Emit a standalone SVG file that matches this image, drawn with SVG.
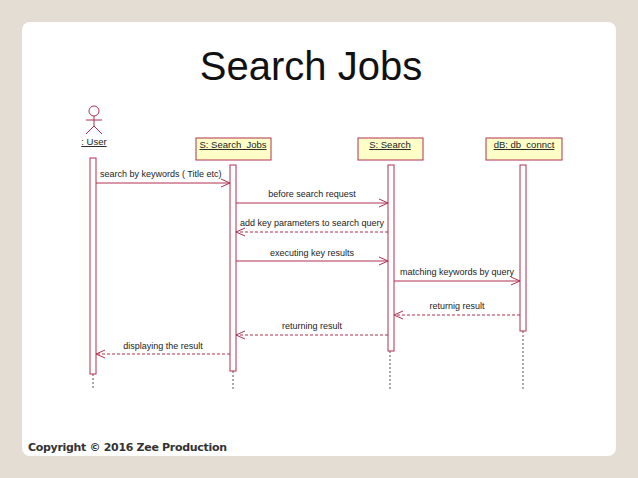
<svg xmlns="http://www.w3.org/2000/svg" width="638" height="478" viewBox="0 0 638 478">
<style>
.b{fill:#ffffc8;stroke:#b03050;stroke-width:1}
.a{fill:#fff;stroke:#b03050;stroke-width:1}
.t{font-family:"Liberation Sans",Arial,sans-serif;font-size:9px;fill:#222}
.n{font-family:"Liberation Sans",Arial,sans-serif;font-size:9.5px;fill:#222;text-decoration:underline;text-anchor:middle}
.l{stroke:#b03050;stroke-width:1;fill:none}
.d{stroke:#b03050;stroke-width:1;fill:none;stroke-dasharray:3,2}
.ll{stroke:#555;stroke-width:1;stroke-dasharray:2,2}
</style>
<defs>
<marker id="ar" markerWidth="10" markerHeight="10" refX="9" refY="5" orient="auto" markerUnits="userSpaceOnUse"><path d="M0,1 L9,5 L0,9" fill="none" stroke="#b03050"/></marker>
</defs>
<rect width="638" height="478" fill="#e3ddd3"/>
<rect x="22" y="22" width="594" height="434" rx="8" fill="#fff"/>
<text x="311" y="80" font-family="Liberation Sans,Arial,sans-serif" font-size="40" text-anchor="middle" fill="#111">Search Jobs</text>
<g id="user">
<circle cx="94" cy="111" r="5" class="a"/>
<path class="l" d="M94,116 V126 M86,120 H102 M94,126 L86,134 M94,126 L102,134"/>
<text x="94" y="145" class="n">: User</text>
<line x1="93" y1="374" x2="93" y2="390" class="ll"/>
<rect x="90" y="158" width="6" height="216" class="a"/>
</g>
<g id="searchjobs">
<rect x="196" y="138" width="75" height="22" class="b"/>
<text x="233" y="148" class="n">S: Search_Jobs</text>
<line x1="233" y1="371" x2="233" y2="390" class="ll"/>
<rect x="230" y="165" width="6" height="206" class="a"/>
</g>
<g id="search">
<rect x="358" y="138" width="65" height="22" class="b"/>
<text x="390" y="148" class="n">S: Search</text>
<line x1="390" y1="351" x2="390" y2="390" class="ll"/>
<rect x="388" y="165" width="6" height="186" class="a"/>
</g>
<g id="db">
<rect x="486" y="138" width="76" height="22" class="b"/>
<text x="524" y="148" class="n">dB: db_connct</text>
<line x1="523" y1="331" x2="523" y2="390" class="ll"/>
<rect x="520" y="165" width="6" height="166" class="a"/>
</g>
<g id="connectors">
<line x1="96" y1="183" x2="230" y2="183" class="l" marker-end="url(#ar)"/>
<text x="100" y="177" class="t">search by keywords ( Title etc)</text>
<line x1="236" y1="203" x2="388" y2="203" class="l" marker-end="url(#ar)"/>
<text x="312" y="197" class="t" text-anchor="middle">before search request</text>
<line x1="388" y1="232" x2="236" y2="232" class="d" marker-end="url(#ar)"/>
<text x="312" y="226" class="t" text-anchor="middle">add key parameters to search query</text>
<line x1="236" y1="261" x2="388" y2="261" class="l" marker-end="url(#ar)"/>
<text x="312" y="256" class="t" text-anchor="middle">executing key results</text>
<line x1="394" y1="281" x2="520" y2="281" class="l" marker-end="url(#ar)"/>
<text x="457" y="275" class="t" text-anchor="middle">matching keywords by query</text>
<line x1="520" y1="315" x2="394" y2="315" class="d" marker-end="url(#ar)"/>
<text x="457" y="309" class="t" text-anchor="middle">returnig result</text>
<line x1="388" y1="335" x2="236" y2="335" class="d" marker-end="url(#ar)"/>
<text x="312" y="329" class="t" text-anchor="middle">returning result</text>
<line x1="230" y1="354" x2="96" y2="354" class="d" marker-end="url(#ar)"/>
<text x="163" y="349" class="t" text-anchor="middle">displaying the result</text>
</g>
<text x="28" y="451" font-family="DejaVu Sans,Verdana,sans-serif" font-size="11" font-weight="bold" fill="#333" textLength="199">Copyright © 2016 Zee Production</text>
</svg>
